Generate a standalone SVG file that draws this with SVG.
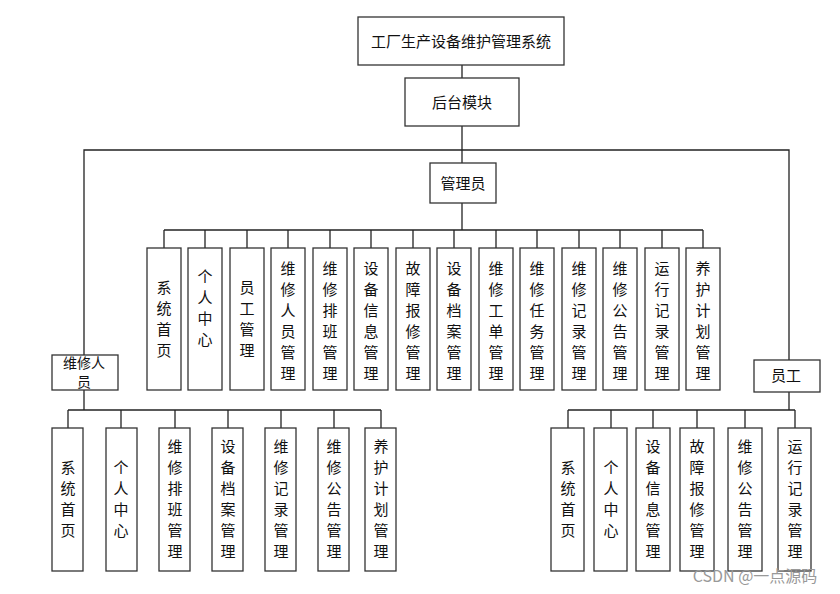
<svg xmlns="http://www.w3.org/2000/svg" width="840" height="594" viewBox="0 0 840 594">
<style>
rect{fill:#fff;stroke:#333;stroke-width:1.3}
text{font-family:"Noto Sans CJK SC","Liberation Sans",sans-serif;font-size:15px;fill:#111;text-anchor:middle}
.c line,.c polyline{stroke:#222;stroke-width:1.3;fill:none}
</style>
<rect width="840" height="594" style="fill:#fff;stroke:none"/>
<g class="c" id="connectors">
<line x1="462" y1="65" x2="462" y2="78"/>
<line x1="462" y1="126" x2="462" y2="163"/>
<polyline points="84,355 84,150 789,150 789,360"/>
<line x1="462" y1="203" x2="462" y2="230"/>
<line x1="164" y1="230" x2="703" y2="230"/>
<line x1="164" y1="230" x2="164" y2="248"/><line x1="205" y1="230" x2="205" y2="248"/><line x1="247" y1="230" x2="247" y2="248"/><line x1="288" y1="230" x2="288" y2="248"/><line x1="330" y1="230" x2="330" y2="248"/><line x1="371" y1="230" x2="371" y2="248"/><line x1="413" y1="230" x2="413" y2="248"/><line x1="454" y1="230" x2="454" y2="248"/><line x1="496" y1="230" x2="496" y2="248"/><line x1="537" y1="230" x2="537" y2="248"/><line x1="579" y1="230" x2="579" y2="248"/><line x1="620" y1="230" x2="620" y2="248"/><line x1="662" y1="230" x2="662" y2="248"/><line x1="703" y1="230" x2="703" y2="248"/>
<line x1="84" y1="390" x2="84" y2="410"/>
<line x1="68" y1="410" x2="381" y2="410"/>
<line x1="68" y1="410" x2="68" y2="428"/><line x1="121" y1="410" x2="121" y2="428"/><line x1="175" y1="410" x2="175" y2="428"/><line x1="228" y1="410" x2="228" y2="428"/><line x1="281" y1="410" x2="281" y2="428"/><line x1="334" y1="410" x2="334" y2="428"/><line x1="381" y1="410" x2="381" y2="428"/>
<line x1="789" y1="392" x2="789" y2="410"/>
<line x1="568" y1="410" x2="795" y2="410"/>
<line x1="568" y1="410" x2="568" y2="428"/><line x1="611" y1="410" x2="611" y2="428"/><line x1="653" y1="410" x2="653" y2="428"/><line x1="697" y1="410" x2="697" y2="428"/><line x1="745" y1="410" x2="745" y2="428"/><line x1="795" y1="410" x2="795" y2="428"/>
</g>
<g id="root"><rect x="358" y="17" width="206" height="48"/><text x="461" y="47">工厂生产设备维护管理系统</text></g>
<g id="backend"><rect x="405" y="78" width="114" height="48"/><text x="462" y="108">后台模块</text></g>
<g id="admin"><rect x="430" y="163" width="66" height="40"/><text x="463" y="189">管理员</text></g>
<g id="repair"><rect x="52" y="355" width="66" height="35"/><text x="84" y="368" style="font-size:14px">维修人</text><text x="84" y="387" style="font-size:14px">员</text></g>
<g id="staff"><rect x="754" y="360" width="66" height="32"/><text x="786" y="381">员工</text></g>
<g id="a1"><rect x="147" y="248" width="34" height="142"/><text x="164"><tspan x="164" y="293">系</tspan><tspan x="164" dy="21">统</tspan><tspan x="164" dy="21">首</tspan><tspan x="164" dy="21">页</tspan></text></g>
<g id="a2"><rect x="188" y="248" width="34" height="142"/><text><tspan x="205" y="282">个</tspan><tspan x="205" dy="21">人</tspan><tspan x="205" dy="21">中</tspan><tspan x="205" dy="21">心</tspan></text></g>
<g id="a3"><rect x="230" y="248" width="34" height="142"/><text><tspan x="247" y="293">员</tspan><tspan x="247" dy="21">工</tspan><tspan x="247" dy="21">管</tspan><tspan x="247" dy="21">理</tspan></text></g>
<g id="a4"><rect x="271" y="248" width="34" height="142"/><text><tspan x="288" y="274">维</tspan><tspan x="288" dy="21">修</tspan><tspan x="288" dy="21">人</tspan><tspan x="288" dy="21">员</tspan><tspan x="288" dy="21">管</tspan><tspan x="288" dy="21">理</tspan></text></g>
<g id="a5"><rect x="313" y="248" width="34" height="142"/><text><tspan x="330" y="274">维</tspan><tspan x="330" dy="21">修</tspan><tspan x="330" dy="21">排</tspan><tspan x="330" dy="21">班</tspan><tspan x="330" dy="21">管</tspan><tspan x="330" dy="21">理</tspan></text></g>
<g id="a6"><rect x="354" y="248" width="34" height="142"/><text><tspan x="371" y="274">设</tspan><tspan x="371" dy="21">备</tspan><tspan x="371" dy="21">信</tspan><tspan x="371" dy="21">息</tspan><tspan x="371" dy="21">管</tspan><tspan x="371" dy="21">理</tspan></text></g>
<g id="a7"><rect x="396" y="248" width="34" height="142"/><text><tspan x="413" y="274">故</tspan><tspan x="413" dy="21">障</tspan><tspan x="413" dy="21">报</tspan><tspan x="413" dy="21">修</tspan><tspan x="413" dy="21">管</tspan><tspan x="413" dy="21">理</tspan></text></g>
<g id="a8"><rect x="437" y="248" width="34" height="142"/><text><tspan x="454" y="274">设</tspan><tspan x="454" dy="21">备</tspan><tspan x="454" dy="21">档</tspan><tspan x="454" dy="21">案</tspan><tspan x="454" dy="21">管</tspan><tspan x="454" dy="21">理</tspan></text></g>
<g id="a9"><rect x="479" y="248" width="34" height="142"/><text><tspan x="496" y="274">维</tspan><tspan x="496" dy="21">修</tspan><tspan x="496" dy="21">工</tspan><tspan x="496" dy="21">单</tspan><tspan x="496" dy="21">管</tspan><tspan x="496" dy="21">理</tspan></text></g>
<g id="a10"><rect x="520" y="248" width="34" height="142"/><text><tspan x="537" y="274">维</tspan><tspan x="537" dy="21">修</tspan><tspan x="537" dy="21">任</tspan><tspan x="537" dy="21">务</tspan><tspan x="537" dy="21">管</tspan><tspan x="537" dy="21">理</tspan></text></g>
<g id="a11"><rect x="562" y="248" width="34" height="142"/><text><tspan x="579" y="274">维</tspan><tspan x="579" dy="21">修</tspan><tspan x="579" dy="21">记</tspan><tspan x="579" dy="21">录</tspan><tspan x="579" dy="21">管</tspan><tspan x="579" dy="21">理</tspan></text></g>
<g id="a12"><rect x="603" y="248" width="34" height="142"/><text><tspan x="620" y="274">维</tspan><tspan x="620" dy="21">修</tspan><tspan x="620" dy="21">公</tspan><tspan x="620" dy="21">告</tspan><tspan x="620" dy="21">管</tspan><tspan x="620" dy="21">理</tspan></text></g>
<g id="a13"><rect x="645" y="248" width="34" height="142"/><text><tspan x="662" y="274">运</tspan><tspan x="662" dy="21">行</tspan><tspan x="662" dy="21">记</tspan><tspan x="662" dy="21">录</tspan><tspan x="662" dy="21">管</tspan><tspan x="662" dy="21">理</tspan></text></g>
<g id="a14"><rect x="686" y="248" width="34" height="142"/><text><tspan x="703" y="274">养</tspan><tspan x="703" dy="21">护</tspan><tspan x="703" dy="21">计</tspan><tspan x="703" dy="21">划</tspan><tspan x="703" dy="21">管</tspan><tspan x="703" dy="21">理</tspan></text></g>
<g id="r1"><rect x="52" y="428" width="31" height="143"/><text><tspan x="68" y="473">系</tspan><tspan x="68" dy="21">统</tspan><tspan x="68" dy="21">首</tspan><tspan x="68" dy="21">页</tspan></text></g>
<g id="r2"><rect x="106" y="428" width="31" height="143"/><text><tspan x="121" y="473">个</tspan><tspan x="121" dy="21">人</tspan><tspan x="121" dy="21">中</tspan><tspan x="121" dy="21">心</tspan></text></g>
<g id="r3"><rect x="159" y="428" width="31" height="143"/><text><tspan x="175" y="452">维</tspan><tspan x="175" dy="21">修</tspan><tspan x="175" dy="21">排</tspan><tspan x="175" dy="21">班</tspan><tspan x="175" dy="21">管</tspan><tspan x="175" dy="21">理</tspan></text></g>
<g id="r4"><rect x="212" y="428" width="31" height="143"/><text><tspan x="228" y="452">设</tspan><tspan x="228" dy="21">备</tspan><tspan x="228" dy="21">档</tspan><tspan x="228" dy="21">案</tspan><tspan x="228" dy="21">管</tspan><tspan x="228" dy="21">理</tspan></text></g>
<g id="r5"><rect x="265" y="428" width="31" height="143"/><text><tspan x="281" y="452">维</tspan><tspan x="281" dy="21">修</tspan><tspan x="281" dy="21">记</tspan><tspan x="281" dy="21">录</tspan><tspan x="281" dy="21">管</tspan><tspan x="281" dy="21">理</tspan></text></g>
<g id="r6"><rect x="318" y="428" width="31" height="143"/><text><tspan x="334" y="452">维</tspan><tspan x="334" dy="21">修</tspan><tspan x="334" dy="21">公</tspan><tspan x="334" dy="21">告</tspan><tspan x="334" dy="21">管</tspan><tspan x="334" dy="21">理</tspan></text></g>
<g id="r7"><rect x="365" y="428" width="31" height="143"/><text><tspan x="381" y="452">养</tspan><tspan x="381" dy="21">护</tspan><tspan x="381" dy="21">计</tspan><tspan x="381" dy="21">划</tspan><tspan x="381" dy="21">管</tspan><tspan x="381" dy="21">理</tspan></text></g>
<g id="s1"><rect x="551" y="428" width="33" height="143"/><text><tspan x="568" y="473">系</tspan><tspan x="568" dy="21">统</tspan><tspan x="568" dy="21">首</tspan><tspan x="568" dy="21">页</tspan></text></g>
<g id="s2"><rect x="594" y="428" width="33" height="143"/><text><tspan x="611" y="473">个</tspan><tspan x="611" dy="21">人</tspan><tspan x="611" dy="21">中</tspan><tspan x="611" dy="21">心</tspan></text></g>
<g id="s3"><rect x="636" y="428" width="34" height="143"/><text><tspan x="653" y="452">设</tspan><tspan x="653" dy="21">备</tspan><tspan x="653" dy="21">信</tspan><tspan x="653" dy="21">息</tspan><tspan x="653" dy="21">管</tspan><tspan x="653" dy="21">理</tspan></text></g>
<g id="s4"><rect x="680" y="428" width="34" height="143"/><text><tspan x="697" y="452">故</tspan><tspan x="697" dy="21">障</tspan><tspan x="697" dy="21">报</tspan><tspan x="697" dy="21">修</tspan><tspan x="697" dy="21">管</tspan><tspan x="697" dy="21">理</tspan></text></g>
<g id="s5"><rect x="728" y="428" width="34" height="143"/><text><tspan x="745" y="452">维</tspan><tspan x="745" dy="21">修</tspan><tspan x="745" dy="21">公</tspan><tspan x="745" dy="21">告</tspan><tspan x="745" dy="21">管</tspan><tspan x="745" dy="21">理</tspan></text></g>
<g id="s6"><rect x="778" y="428" width="33" height="143"/><text><tspan x="795" y="452">运</tspan><tspan x="795" dy="21">行</tspan><tspan x="795" dy="21">记</tspan><tspan x="795" dy="21">录</tspan><tspan x="795" dy="21">管</tspan><tspan x="795" dy="21">理</tspan></text></g>
<text x="755" y="582" style="font-size:16px;fill:#999">CSDN @一点源码</text>
</svg>
